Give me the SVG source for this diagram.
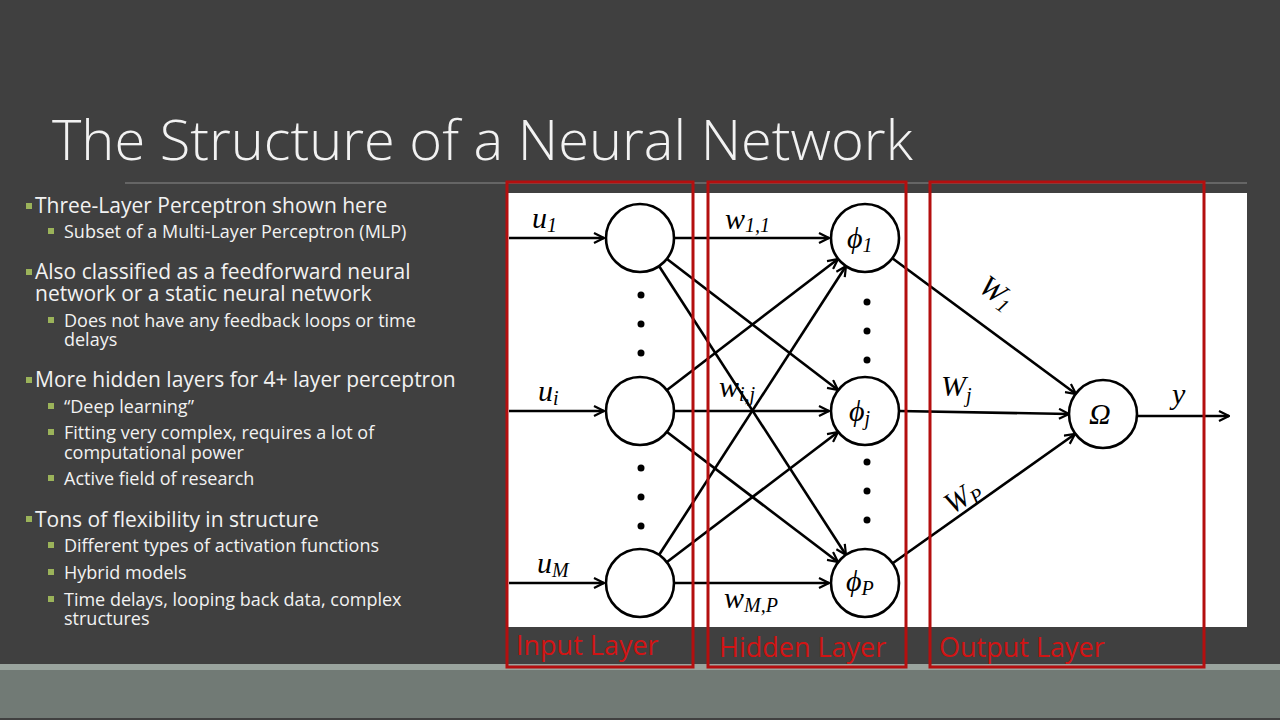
<svg xmlns="http://www.w3.org/2000/svg" width="1280" height="720" viewBox="0 0 1280 720">
<defs>
<marker id="ah" viewBox="0 0 12 12" refX="11" refY="6" markerWidth="12" markerHeight="12" markerUnits="userSpaceOnUse" orient="auto">
<path d="M1,1 L11,6 L1,11" fill="none" stroke="#000" stroke-width="2.2"/>
</marker>
<style>
.t{font-family:"Open Sans","DejaVu Sans",sans-serif;fill:#f2f2f2}
.b{font-size:21px}.s{font-size:18px}
.bul{fill:#9bb35a}
.e{stroke:#000;stroke-width:2.6;fill:none;marker-end:url(#ah)}
.n{fill:#fff;stroke:#000;stroke-width:2.6}
.m{font-family:"Liberation Serif",serif;font-style:italic;fill:#000}
.d{fill:#000}
.rb{fill:none;stroke:#b40f0f;stroke-width:3}
.rl{font-family:"Open Sans","DejaVu Sans",sans-serif;font-size:27px;fill:#d21414}
</style>
</defs>
<rect width="1280" height="720" fill="#404040"/>
<rect x="0" y="664" width="1280" height="6" fill="#9aa49e"/>
<rect x="0" y="670" width="1280" height="48" fill="#717a75"/>
<text x="52" y="160" class="t" font-size="56" font-weight="300">The Structure of a Neural Network</text>
<line x1="125" y1="183" x2="1247" y2="183" stroke="#8a8a8a" stroke-width="1"/>
<g id="bullets">
<rect class="bul" x="26" y="203" width="6" height="6"/><text class="t b" x="35" y="213">Three-Layer Perceptron shown here</text>
<rect class="bul" x="48" y="228" width="6" height="6"/><text class="t s" x="64" y="238">Subset of a Multi-Layer Perceptron (MLP)</text>
<rect class="bul" x="26" y="269" width="6" height="6"/><text class="t b" x="35" y="279">Also classified as a feedforward neural</text>
<text class="t b" x="35" y="301">network or a static neural network</text>
<rect class="bul" x="48" y="317" width="6" height="6"/><text class="t s" x="64" y="327">Does not have any feedback loops or time</text>
<text class="t s" x="64" y="346">delays</text>
<rect class="bul" x="26" y="377" width="6" height="6"/><text class="t b" x="35" y="387">More hidden layers for 4+ layer perceptron</text>
<rect class="bul" x="48" y="403" width="6" height="6"/><text class="t s" x="64" y="413">“Deep learning”</text>
<rect class="bul" x="48" y="429" width="6" height="6"/><text class="t s" x="64" y="439">Fitting very complex, requires a lot of</text>
<text class="t s" x="64" y="459">computational power</text>
<rect class="bul" x="48" y="475" width="6" height="6"/><text class="t s" x="64" y="485">Active field of research</text>
<rect class="bul" x="26" y="516" width="6" height="6"/><text class="t b" x="35" y="527">Tons of flexibility in structure</text>
<rect class="bul" x="48" y="542" width="6" height="6"/><text class="t s" x="64" y="552">Different types of activation functions</text>
<rect class="bul" x="48" y="569" width="6" height="6"/><text class="t s" x="64" y="579">Hybrid models</text>
<rect class="bul" x="48" y="596" width="6" height="6"/><text class="t s" x="64" y="606">Time delays, looping back data, complex</text>
<text class="t s" x="64" y="625">structures</text>
</g>
<rect x="507" y="193" width="740" height="434" fill="#fff"/>
<g id="connectors">
<line class="e" x1="509" y1="238" x2="604" y2="238"/>
<line class="e" x1="509" y1="411" x2="604" y2="411"/>
<line class="e" x1="509" y1="583" x2="604" y2="583"/>
<line class="e" x1="674" y1="238" x2="829" y2="238"/>
<line class="e" x1="667" y1="259" x2="838" y2="390"/>
<line class="e" x1="659" y1="266" x2="846" y2="555"/>
<line class="e" x1="667" y1="390" x2="838" y2="259"/>
<line class="e" x1="674" y1="411" x2="829" y2="411"/>
<line class="e" x1="667" y1="432" x2="838" y2="562"/>
<line class="e" x1="659" y1="555" x2="846" y2="266"/>
<line class="e" x1="667" y1="562" x2="838" y2="432"/>
<line class="e" x1="674" y1="583" x2="829" y2="583"/>
<line class="e" x1="892" y1="258" x2="1076" y2="394"/>
<line class="e" x1="899" y1="411" x2="1069" y2="414"/>
<line class="e" x1="893" y1="563" x2="1075" y2="434"/>
<line class="e" x1="1137" y1="416" x2="1229" y2="416"/>
</g>
<g id="input-nodes">
<circle class="n" cx="640" cy="238" r="34"/>
<circle class="n" cx="640" cy="411" r="34"/>
<circle class="n" cx="640" cy="583" r="34"/>
<circle class="d" cx="641" cy="295" r="3.5"/><circle class="d" cx="641" cy="324" r="3.5"/><circle class="d" cx="641" cy="353" r="3.5"/>
<circle class="d" cx="641" cy="468" r="3.5"/><circle class="d" cx="641" cy="497" r="3.5"/><circle class="d" cx="641" cy="526" r="3.5"/>
<text class="m" x="532" y="228" font-size="30">u<tspan font-size="20" dy="4">1</tspan></text>
<text class="m" x="538" y="401" font-size="30">u<tspan font-size="20" dy="4">i</tspan></text>
<text class="m" x="537" y="573" font-size="30">u<tspan font-size="20" dy="4">M</tspan></text>
</g>
<g id="hidden-nodes">
<circle class="n" cx="865" cy="238" r="34"/>
<circle class="n" cx="865" cy="411" r="34"/>
<circle class="n" cx="865" cy="583" r="34"/>
<circle class="d" cx="867" cy="302" r="3.5"/><circle class="d" cx="867" cy="331" r="3.5"/><circle class="d" cx="867" cy="360" r="3.5"/>
<circle class="d" cx="867" cy="462" r="3.5"/><circle class="d" cx="867" cy="491" r="3.5"/><circle class="d" cx="867" cy="520" r="3.5"/>
<text class="m" x="847" y="248" font-size="30">ϕ<tspan font-size="20" dy="4">1</tspan></text>
<text class="m" x="849" y="421" font-size="30">ϕ<tspan font-size="20" dy="4">j</tspan></text>
<text class="m" x="846" y="591" font-size="30">ϕ<tspan font-size="20" dy="4">P</tspan></text>
<text class="m" x="725" y="229" font-size="30">w<tspan font-size="20" dy="3">1,1</tspan></text>
<text class="m" x="719" y="397" font-size="30">w<tspan font-size="20" dy="4">i,j</tspan></text>
<text class="m" x="724" y="608" font-size="30">w<tspan font-size="20" dy="4">M,P</tspan></text>
</g>
<g id="output-node">
<circle class="n" cx="1103" cy="414" r="34"/>
<text class="m" x="1089" y="424" font-size="30">Ω</text>
<text class="m" x="1172" y="404" font-size="30">y</text>
<text class="m" font-size="30" transform="translate(977,290) rotate(36)">W<tspan font-size="20" dy="4">1</tspan></text>
<text class="m" x="941" y="396" font-size="30">W<tspan font-size="20" dy="6">j</tspan></text>
<text class="m" font-size="30" transform="translate(952,515) rotate(-33)">W<tspan font-size="20" dy="4">P</tspan></text>
</g>
<g id="layer-boxes">
<rect class="rb" x="507" y="182" width="186" height="485"/>
<rect class="rb" x="708" y="182" width="198" height="485"/>
<rect class="rb" x="930" y="182" width="274" height="485"/>
<text class="rl" x="516" y="655">Input Layer</text>
<text class="rl" x="719" y="657">Hidden Layer</text>
<text class="rl" x="939" y="657">Output Layer</text>
</g>
</svg>
